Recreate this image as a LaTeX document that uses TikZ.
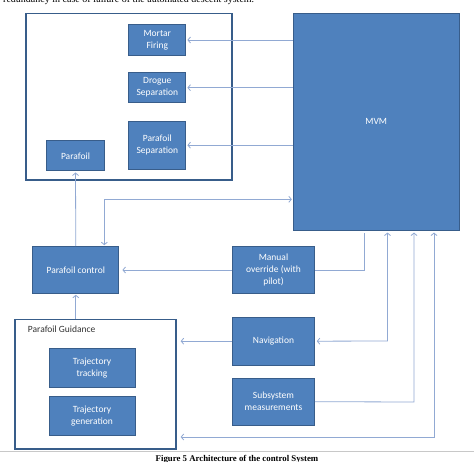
\documentclass[tikz,border=0pt]{standalone}
\usepackage{fontspec}
\setmainfont{Carlito}
\newfontfamily\capfont{Liberation Serif}
\usetikzlibrary{arrows.meta}
\definecolor{boxblue}{HTML}{4F81BD}
\definecolor{boxedge}{HTML}{385D8A}
\definecolor{linkc}{HTML}{91A9D3}
\definecolor{rulec}{HTML}{C8C8C8}
\tikzset{
 blk/.style={draw=boxedge, line width=1pt, fill=boxblue, text=white,
   font=\fontsize{9.5}{12}\selectfont, align=center, inner sep=0pt},
 frame/.style={draw=boxedge, line width=1.4pt, inner sep=0pt},
 link/.style={draw=linkc, line width=0.8pt},
 tipend/.style={-{Straight Barb[length=2.5pt,width=6pt]}},
 tipboth/.style={{Straight Barb[length=2.5pt,width=6pt]}-{Straight Barb[length=2.5pt,width=6pt]}}
}
\begin{document}
\begin{tikzpicture}[x=1pt,y=-1pt]
\useasboundingbox (0,0) rectangle (474,462);
\fill[white] (0,0) rectangle (474,462);

% cut-off text line at top
\node[anchor=base west, inner sep=0pt, font=\capfont\fontsize{10}{12}\selectfont] (toptext) at (3,2.5) {redundancy in case of failure of the automated descent system.};

% frames
\node[frame, minimum width=206pt, minimum height=166.7pt] (top) at (129,96.7) {};
\node[frame, minimum width=161pt, minimum height=129.7pt] (guid) at (95.5,384.2) {};
\node[anchor=west, inner sep=0pt, text=black!80, font=\fontsize{9.5}{12}\selectfont] (guidlbl) at (27.7,329) {Parafoil Guidance};

% blocks
\node[blk, minimum width=57.3pt, minimum height=31.4pt] (mortar) at (157.3,40) {Mortar\\Firing};
\node[blk, minimum width=57.3pt, minimum height=30pt] (drogue) at (157.3,87.7) {Drogue\\Separation};
\node[blk, minimum width=57.3pt, minimum height=48.3pt] (parsep) at (157.3,145.2) {Parafoil\\Separation};
\node[blk, minimum width=57.6pt, minimum height=30pt] (parafoil) at (75.5,156) {Parafoil};
\node[blk, minimum width=166pt, minimum height=216.7pt] (mvm) at (376.3,121.7) {MVM};
\node[blk, minimum width=86.3pt, minimum height=46.6pt] (pctrl) at (75.8,270) {Parafoil control};
\node[blk, minimum width=81.6pt, minimum height=46.6pt] (manual) at (273.5,270) {Manual\\override (with\\pilot)};
\node[blk, minimum width=81.6pt, minimum height=47.7pt] (nav) at (273.5,341.2) {Navigation};
\node[blk, minimum width=81.6pt, minimum height=46.7pt] (subsys) at (273.5,401.7) {Subsystem\\measurements};
\node[blk, minimum width=86pt, minimum height=39.4pt] (ttrack) at (92,368) {Trajectory\\tracking};
\node[blk, minimum width=86pt, minimum height=39.3pt] (tgen) at (92,416.3) {Trajectory\\generation};

% junction coordinates
\coordinate (j1) at (104.3,199.3);
\coordinate (j2) at (364,270);
\coordinate (j3) at (387.5,341);
\coordinate (j4) at (414,402);
\coordinate (j5) at (434,437);

% connectors
\draw[link,tipend,shorten >=1pt] (mvm.west |- mortar.east) -- (mortar.east);
\draw[link,tipend,shorten >=1pt] (mvm.west |- drogue.east) -- (drogue.east);
\draw[link,tipend,shorten >=1pt] (mvm.west |- parsep.east) -- (parsep.east);
\draw[link,tipboth,shorten <=1pt,shorten >=1pt] (pctrl.north -| j1) -- (j1) -- (mvm.west |- j1);
\draw[link,tipend,shorten >=1pt] (pctrl.north) -- (parafoil.south);
\draw[link,tipend,shorten >=3pt] (manual.west) -- (pctrl.east);
\draw[link,shorten >=2pt] (manual.east) -- (j2) -- (mvm.south -| j2);
\draw[link,tipboth,shorten <=2pt,shorten >=2pt] (nav.east) -- (j3) -- (mvm.south -| j3);
\draw[link,tipend,shorten >=4pt] (nav.west) -- (guid.east |- nav.west);
\draw[link,tipend,shorten >=2pt] (subsys.east) -- (j4) -- (mvm.south -| j4);
\draw[link,tipboth,shorten <=2pt,shorten >=4pt] (mvm.south -| j5) -- (j5) -- (guid.east |- j5);
\draw[link,tipend,shorten >=1pt] (guid.north -| pctrl.south) -- (pctrl.south);

% rule and caption
\coordinate (r1) at (0,451.7);
\coordinate (r2) at (474,451.7);
\draw[rulec, line width=0.8pt] (r1) -- (r2);
\node[anchor=base, inner sep=0pt, font=\capfont\bfseries\fontsize{8.8}{10}\selectfont] (caption) at (237,461) {Figure 5 Architecture of the control System};
\end{tikzpicture}
\end{document}
